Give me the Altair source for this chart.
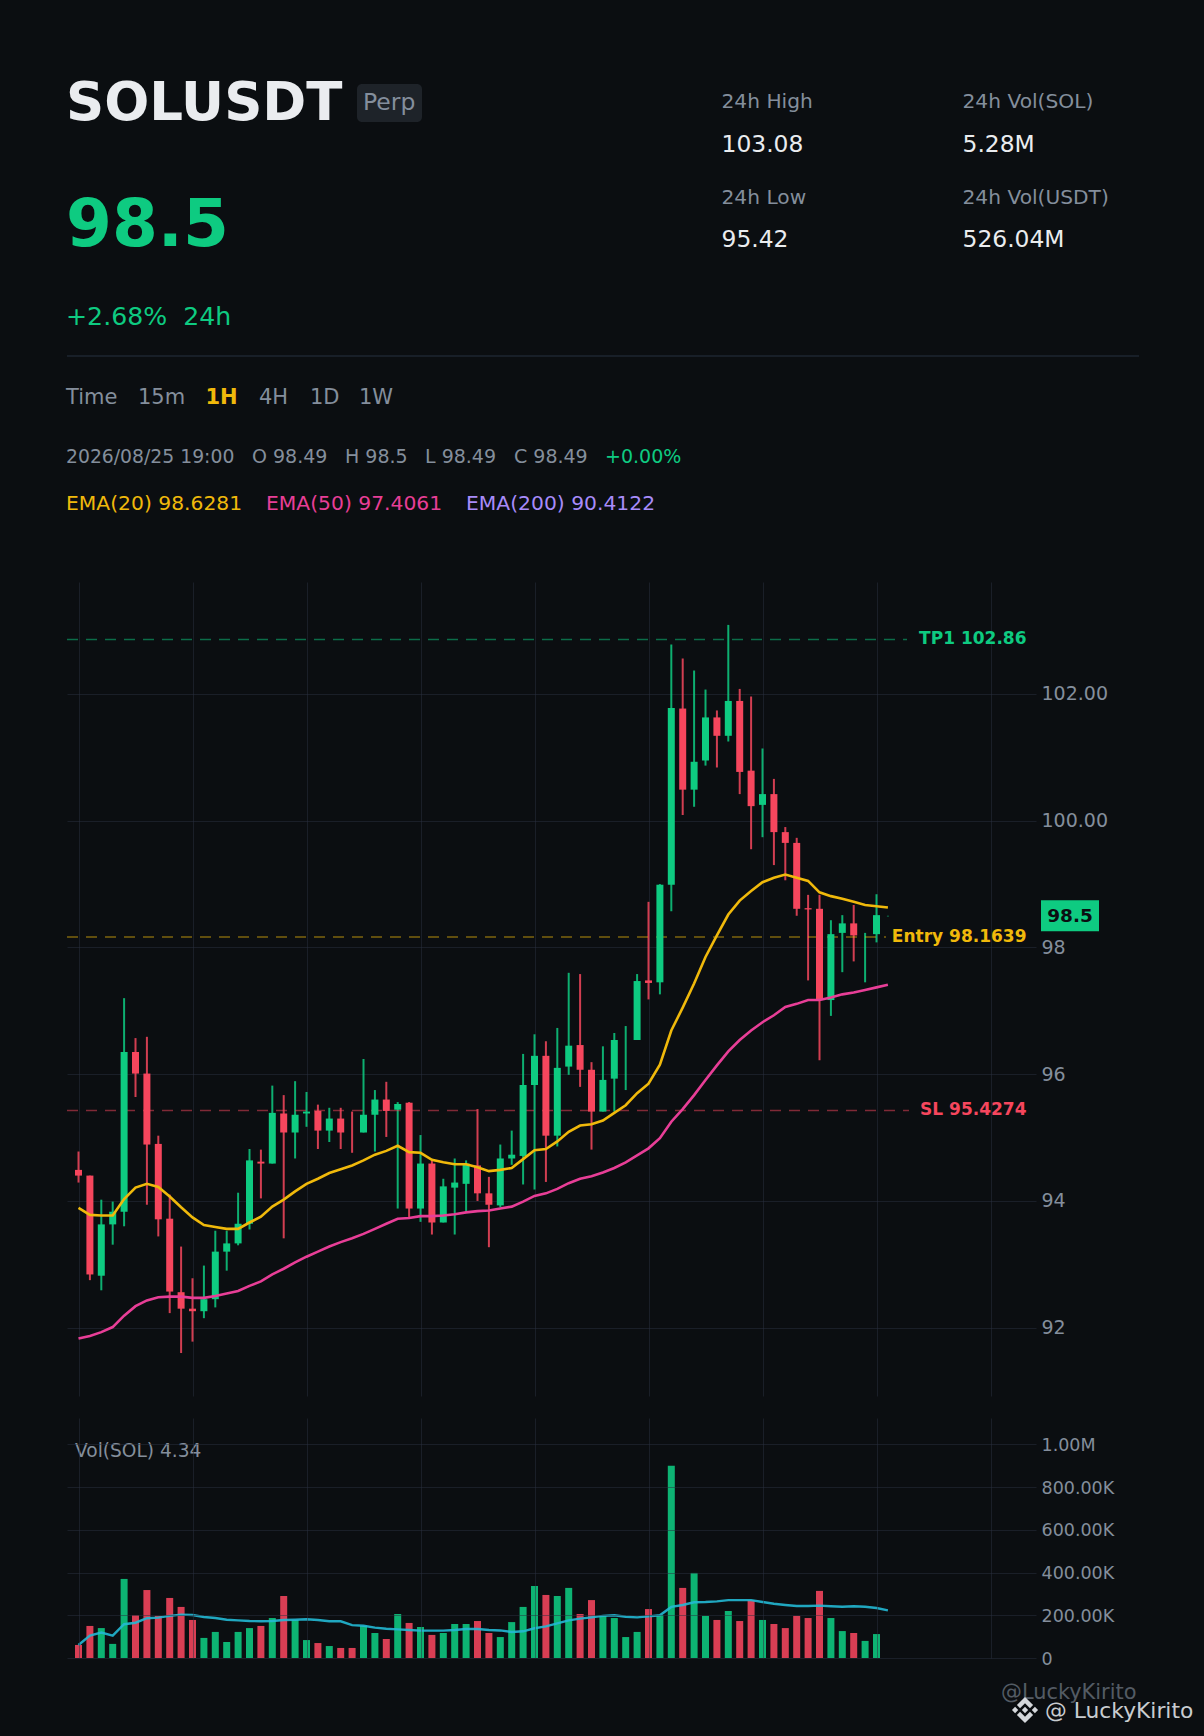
import altair as alt
import pandas as pd

BG = "#0b0e11"
GREEN = "#0ecb81"
RED = "#f6465d"
GOLD = "#f0b90b"
PINK = "#e83e97"
VIOLET = "#a78bfa"
CYAN = "#22b8d4"
GREY = "#848e9c"
FONT = "DejaVu Sans"

opens = [94.49,94.40,92.82,93.63,93.83,96.35,96.01,94.90,93.72,92.56,92.30,92.26,92.45,93.20,93.33,93.64,94.62,94.59,95.38,95.08,
         95.38,95.42,95.11,95.30,95.08,95.08,95.36,95.60,95.44,95.55,93.88,94.59,93.66,94.21,94.27,94.56,94.12,93.93,94.67,94.71,
         95.83,96.29,95.03,96.12,96.46,96.07,95.41,95.93,96.54,96.54,97.48,97.45,98.99,101.77,100.49,100.95,101.63,101.34,101.89,100.79,
         100.25,100.42,99.82,99.65,98.62,98.61,97.17,98.23,98.38,98.20,98.21,98.49]
closes = [94.40,92.84,93.63,93.83,96.35,96.01,94.89,93.71,92.57,92.30,92.26,92.45,93.20,93.33,93.64,94.64,94.59,95.39,95.08,95.36,
          95.41,95.11,95.30,95.08,95.08,95.36,95.60,95.42,95.53,93.88,94.59,93.66,94.23,94.29,94.59,94.12,93.94,94.67,94.73,95.83,
          96.29,95.03,96.10,96.45,96.07,95.41,95.91,96.54,96.54,97.47,97.44,98.99,101.78,100.49,100.93,101.63,101.34,101.89,100.77,100.23,
          100.42,99.82,99.65,98.61,98.60,97.17,98.21,98.38,98.19,98.20,98.51,98.49]
highs = [94.78,94.40,94.02,93.99,97.20,96.57,96.59,95.03,94.10,93.28,92.78,92.98,93.53,93.53,94.13,94.82,94.81,95.82,95.67,95.89,
         95.72,95.52,95.47,95.47,95.41,96.24,95.75,95.88,95.56,95.56,95.04,94.64,94.35,94.67,94.64,95.45,94.38,94.89,95.11,96.32,
         96.63,96.52,96.73,97.60,97.58,96.19,96.44,96.65,96.76,97.58,98.72,99.00,102.78,102.56,102.37,102.07,101.74,103.09,102.08,101.96,
         101.14,100.66,99.90,99.73,98.83,98.83,98.43,98.51,98.67,98.23,98.84,98.50]
lows = [94.29,92.75,92.59,93.31,93.60,95.64,93.94,93.44,92.23,91.60,91.78,92.15,92.32,92.90,93.30,93.55,94.04,94.59,93.41,94.67,
        95.17,94.82,94.93,94.82,94.76,95.08,94.78,95.01,93.88,93.74,93.67,93.47,93.66,93.47,93.83,94.00,93.27,93.90,94.57,94.26,
        94.18,94.30,94.86,95.99,95.80,94.81,95.41,95.41,95.75,96.54,97.18,97.26,98.57,100.09,100.22,100.87,100.84,101.25,100.42,99.55,
        99.74,99.30,99.06,98.50,97.48,96.22,96.92,97.61,97.78,97.45,98.08,98.49]
directions = ["r","r","g","g","g","r","r","r","r","r","r","g","g","g","g","g","r","g","r","g",
              "g","r","g","r","r","g","g","r","g","r","g","r","g","g","g","r","r","g","g","g",
              "g","r","g","g","r","r","g","g","g","g","r","g","g","r","g","g","r","g","r","r",
              "g","r","r","r","r","r","g","g","r","g","g","g"]
ema20 = [93.89,93.78,93.77,93.77,94.03,94.21,94.27,94.22,94.07,93.90,93.74,93.62,93.59,93.56,93.56,93.66,93.75,93.91,94.02,94.15,
         94.27,94.35,94.44,94.50,94.56,94.64,94.73,94.79,94.87,94.77,94.76,94.65,94.61,94.58,94.58,94.53,94.47,94.49,94.52,94.66,
         94.80,94.82,94.94,95.09,95.19,95.21,95.27,95.39,95.51,95.70,95.85,96.15,96.69,97.05,97.43,97.85,98.19,98.52,98.74,98.89,
         99.03,99.10,99.15,99.10,99.05,98.87,98.81,98.77,98.72,98.67,98.65,98.63]
ema50 = [91.83,91.87,91.93,92.01,92.19,92.34,92.43,92.48,92.49,92.49,92.47,92.47,92.50,92.54,92.58,92.66,92.73,92.84,92.93,93.03,
         93.12,93.20,93.28,93.35,93.41,93.48,93.56,93.64,93.72,93.73,93.76,93.76,93.77,93.79,93.82,93.84,93.85,93.88,93.91,93.99,
         94.08,94.12,94.19,94.28,94.35,94.39,94.45,94.52,94.61,94.72,94.83,94.99,95.25,95.45,95.67,95.91,96.14,96.36,96.54,96.69,
         96.82,96.93,97.06,97.11,97.17,97.17,97.21,97.26,97.29,97.33,97.37,97.41]
volumes = [61,150,140,66,370,200,318,197,281,239,178,94,122,75,122,140,150,187,290,178,
           84,70,56,47,47,150,117,89,206,164,145,108,117,159,159,173,117,98,168,239,
           337,295,290,328,206,271,197,187,98,122,229,201,899,328,398,197,178,220,173,271,
           178,159,140,197,187,314,187,126,117,80,112,0.00434]
vol_ma = [61,105,119,105,158,165,186,189,197,203,201,192,187,179,176,173,172,173,178,179,
          181,178,172,172,154,151,142,137,134,131,128,128,128,131,136,136,131,129,122,125,
          139,148,162,176,184,190,197,200,193,190,195,200,239,248,261,262,265,271,271,271,
          262,254,248,243,243,245,242,240,242,240,234,223]
levels = [102.86, 98.1639, 95.4274]
level_labels = ["TP1 102.86", "Entry 98.1639", "SL 95.4274"]
level_colors = [GREEN, GOLD, RED]
level_ends = [840, 819, 842]

df = pd.DataFrame({"i": range(len(opens)), "o": opens, "c": closes, "h": highs, "l": lows, "d": directions,
                   "ema20": ema20, "ema50": ema50, "v": [x * 1000 for x in volumes],
                   "ma": [x * 1000 for x in vol_ma]})
empty = pd.DataFrame({"a": [0]})

PW, PH, VH = 969, 814, 240
x_scale = alt.Scale(domain=[-1.009, 83.991], nice=False, zero=False, padding=0)
GRID = dict(gridColor="#2a3040", gridOpacity=0.5, gridWidth=1)


def x_enc(zindex=0):
    return alt.X("i:Q", scale=x_scale, title=None,
                 axis=alt.Axis(values=list(range(0, 90, 10)), grid=True, labels=False, ticks=False, domain=False,
                               zindex=zindex, **GRID))


price_scale = alt.Scale(domain=[90.922, 103.767], nice=False, zero=False, padding=0)
price_axis = alt.Axis(orient="right", values=[92, 94, 96, 98, 100, 102], grid=True, ticks=False, domain=False,
                      labelFont=FONT, labelFontSize=19, labelColor=GREY, labelPadding=5,
                      labelExpr="datum.value >= 100 ? format(datum.value, '.2f') : format(datum.value, 'd')", **GRID)


def py(field):
    return alt.Y(field, scale=price_scale, axis=price_axis, title=None)


dir_color = alt.Color("d:N", scale=alt.Scale(domain=["g", "r"], range=[GREEN, RED]), legend=None)
base = alt.Chart(df)
wicks = base.mark_rule(strokeWidth=2, opacity=0.85).encode(x=x_enc(), y=py("h:Q"), y2="l:Q", color=dir_color)
bodies = base.mark_bar(size=7).encode(x=x_enc(), y=py("o:Q"), y2="c:Q", color=dir_color)
line20 = base.mark_line(color=GOLD, strokeWidth=2.6).encode(x=x_enc(), y=py("ema20:Q"))
line50 = base.mark_line(color=PINK, strokeWidth=2.6).encode(x=x_enc(), y=py("ema50:Q"))

level_layers = []
label_layers = []
for val, lab, col, end in zip(levels, level_labels, level_colors, level_ends):
    ld = pd.DataFrame({"price": [val], "label": [lab]})
    level_layers.append(alt.Chart(ld).mark_rule(color=col, strokeWidth=1.5, opacity=0.5, strokeDash=[11, 8]).encode(
        x=alt.value(0), x2=alt.value(end), y=py("price:Q")))
    label_layers.append(alt.Chart(ld).mark_text(color=col, font=FONT, fontWeight="bold", fontSize=17, align="right",
                                                baseline="middle", clip=False).encode(
        x=alt.value(959.5), y=py("price:Q"), text="label:N"))

tag_df = pd.DataFrame({"p": [98.5], "lo": [98.255], "hi": [98.745], "t": ["98.5"]})
tag_rect = alt.Chart(tag_df).mark_rect(color=GREEN).encode(x=alt.value(974), x2=alt.value(1032), y=py("lo:Q"), y2="hi:Q")
tag_text = alt.Chart(tag_df).mark_text(color=BG, font=FONT, fontWeight="bold", fontSize=18.5, align="center",
                                       baseline="middle").encode(x=alt.value(1003), y=py("p:Q"), text="t:N")

price_panel = alt.layer(wicks, *level_layers, bodies, line20, line50, *label_layers, tag_rect, tag_text).properties(
    width=PW, height=PH)

# volume panel
vol_scale = alt.Scale(domain=[0, 1123000], nice=False, zero=True, padding=0)
vol_axis = alt.Axis(orient="right", values=[0, 200000, 400000, 600000, 800000, 1000000], grid=True, ticks=False,
                    domain=False, zindex=1, labelFont=FONT, labelFontSize=17.5, labelColor=GREY, labelPadding=5,
                    labelOffset=1,
                    labelExpr="datum.value >= 1000000 ? '1.00M' : datum.value == 0 ? '0' : format(datum.value / 1000, '.2f') + 'K'",
                    **GRID)


def vy(field):
    return alt.Y(field, scale=vol_scale, axis=vol_axis, title=None)


vbars = base.mark_bar(size=7, opacity=0.88).encode(x=x_enc(1), y=vy("v:Q"), color=dir_color)
vline = base.mark_line(color=CYAN, strokeWidth=2.4, opacity=0.9).encode(x=x_enc(1), y=vy("ma:Q"))


def txt(s, x, y, size, color, weight="normal", align="left", opacity=1.0, baseline="alphabetic"):
    return alt.Chart(empty).mark_text(font=FONT, fontSize=size, color=color, fontWeight=weight, align=align,
                                      baseline=baseline, opacity=opacity).encode(
        x=alt.value(x), y=alt.value(y), text=alt.value(s))


logo_path = ("M0,-1 L0.62,-0.38 L0.38,-0.14 L0,-0.52 L-0.38,-0.14 L-0.62,-0.38 Z "
             "M0,1 L0.62,0.38 L0.38,0.14 L0,0.52 L-0.38,0.14 L-0.62,0.38 Z "
             "M0,-0.24 L0.24,0 L0,0.24 L-0.24,0 Z "
             "M0.76,-0.24 L1,0 L0.76,0.24 L0.52,0 Z "
             "M-0.76,-0.24 L-0.52,0 L-0.76,0.24 L-1,0 Z")
VT = 1418  # page y of volume panel top
VL = 66
logo = alt.Chart(empty).mark_point(shape=logo_path, size=680, filled=True, color="#d5d8dc", strokeWidth=0, opacity=1).encode(
    x=alt.value(1024 - VL), y=alt.value(1710 - VT))

vol_panel = alt.layer(
    vbars, vline,
    txt("Vol(SOL) 4.34", 74 - VL, 1457 - VT, 18.6, GREY),
    txt("@LuckyKirito", 1000 - VL, 1699 - VT, 20.9, "#848e9c", opacity=0.6),
    logo,
    txt("@ LuckyKirito", 1044 - VL, 1718 - VT, 21.8, "#c8ccd0"),
).properties(width=PW, height=VH)

# header panel: page coordinates minus panel origin (66, 8)
HX, HY = 66, 8


def h(s, x, y, size, color, weight="normal"):
    return txt(s, x - HX, y - HY, size, color, weight)


badge = alt.Chart(empty).mark_rect(color="#1e2329", cornerRadius=5).encode(
    x=alt.value(356 - HX), x2=alt.value(421 - HX), y=alt.value(84 - HY), y2=alt.value(122 - HY))
divider = alt.Chart(empty).mark_rule(color="#1e2630", strokeWidth=1.5).encode(
    x=alt.value(0), x2=alt.value(1138 - HX), y=alt.value(356 - HY))

header_parts = [
    badge, divider,
    h("SOLUSDT", 65, 120, 53, "#eaecef", "bold"),
    h("Perp", 362, 110, 23.5, GREY),
    h("98.5", 65, 246, 66, GREEN, "bold"),
    h("+2.68%\u00a0\u00a024h", 65, 325, 25.2, GREEN),
    h("24h High", 720.5, 108, 20.2, GREY), h("103.08", 720.5, 152, 23.4, "#eaecef"),
    h("24h Low", 720.5, 204, 20.2, GREY), h("95.42", 720.5, 247, 23.4, "#eaecef"),
    h("24h Vol(SOL)", 961.5, 108, 20.2, GREY), h("5.28M", 961.5, 152, 23.4, "#eaecef"),
    h("24h Vol(USDT)", 961.5, 204, 20.2, GREY), h("526.04M", 961.5, 247, 23.4, "#eaecef"),
    h("Time", 65, 404, 21, GREY), h("15m", 137, 404, 21, GREY), h("1H", 204.5, 404, 21, GOLD, "bold"),
    h("4H", 258, 404, 21, GREY), h("1D", 309, 404, 21, GREY), h("1W", 358, 404, 21, GREY),
    h("2026/08/25 19:00", 65, 463, 18.8, GREY), h("O 98.49", 251, 463, 19, GREY), h("H 98.5", 344, 463, 19, GREY),
    h("L 98.49", 424, 463, 19, GREY), h("C 98.49", 513, 463, 19, GREY), h("+0.00%", 604, 463, 19, GREEN),
    h("EMA(20) 98.6281", 65, 510, 20.3, GOLD), h("EMA(50) 97.4061", 265, 510, 20.3, PINK),
    h("EMA(200) 90.4122", 465, 510, 20.3, VIOLET),
]
header = alt.layer(*header_parts).properties(width=PW, height=552)

chart = alt.vconcat(header, price_panel, vol_panel, spacing=22).properties(
    padding={"left": 58, "top": 0, "right": 0, "bottom": 0},
    background=BG,
).configure_view(stroke=None)

# defaultStyle is an addition to the prescribed save call: it darkens the 8px page margin
# so the background runs to the window edge, as in the reference.
chart.save("out.html", embed_options={"renderer": "svg", "actions": False,
                                      "defaultStyle": "html,body{background:#0b0e11 !important;}"})
